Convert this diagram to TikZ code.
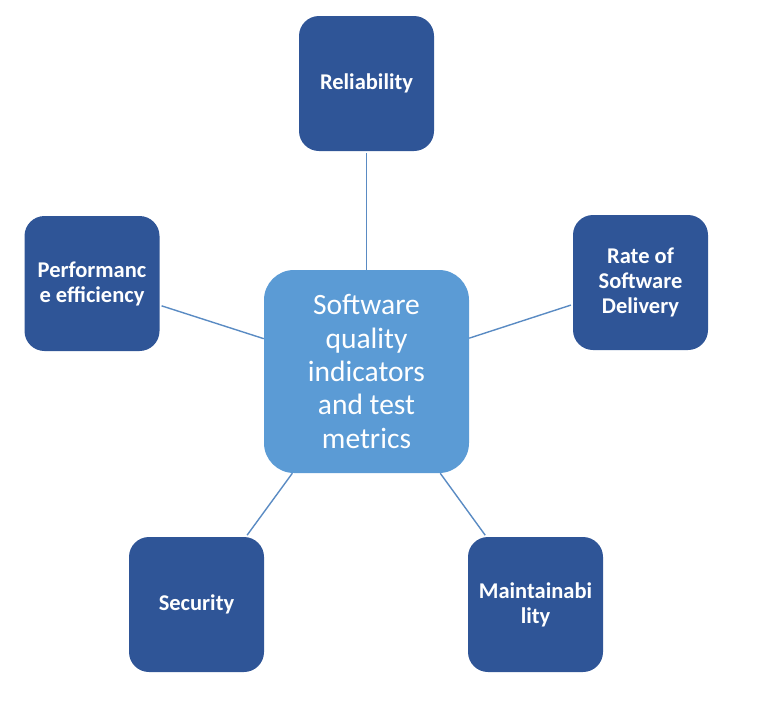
\documentclass[tikz,border=0pt]{standalone}
\usepackage{fontspec}
\setmainfont{Carlito}
\definecolor{darkbox}{HTML}{2F5597}
\definecolor{midbox}{HTML}{5B9BD5}
\definecolor{linkcol}{HTML}{5A8BC3}
\begin{document}
\begin{tikzpicture}[x=1pt,y=-1pt,
  smallbox/.style={draw=none,fill=darkbox,rounded corners=20pt,minimum width=135pt,minimum height=135pt,
    text=white,font=\fontsize{22.5}{25}\selectfont\bfseries,align=center,inner sep=0pt},
  bigbox/.style={draw=none,fill=midbox,rounded corners=30pt,minimum width=205pt,minimum height=203pt,
    text=white,font=\fontsize{29.5}{33.3}\selectfont,align=center,inner sep=0pt},
  link/.style={draw=linkcol,line width=1.4pt,shorten <=2pt}]
\useasboundingbox (0,0) rectangle (768,707);
\node[bigbox] (c) at (366.5,371.5) {Software\\quality\\indicators\\and test\\metrics};
\node[smallbox] (rel) at (366.5,83.5) {Reliability};
\node[smallbox] (perf) at (92,283.5) {Performanc\\e efficiency};
\node[smallbox] (rate) at (640.5,282.5) {Rate of\\Software\\Delivery};
\node[smallbox] (sec) at (196.5,604.5) {Security};
\node[smallbox] (main) at (535.5,604.5) {Maintainabi\\lity};
\draw[link] (rel) -- (c);
\draw[link] (perf) -- (c);
\draw[link] (rate) -- (c);
\draw[link] (sec) -- (c);
\draw[link] (main) -- (c);
\end{tikzpicture}
\end{document}
